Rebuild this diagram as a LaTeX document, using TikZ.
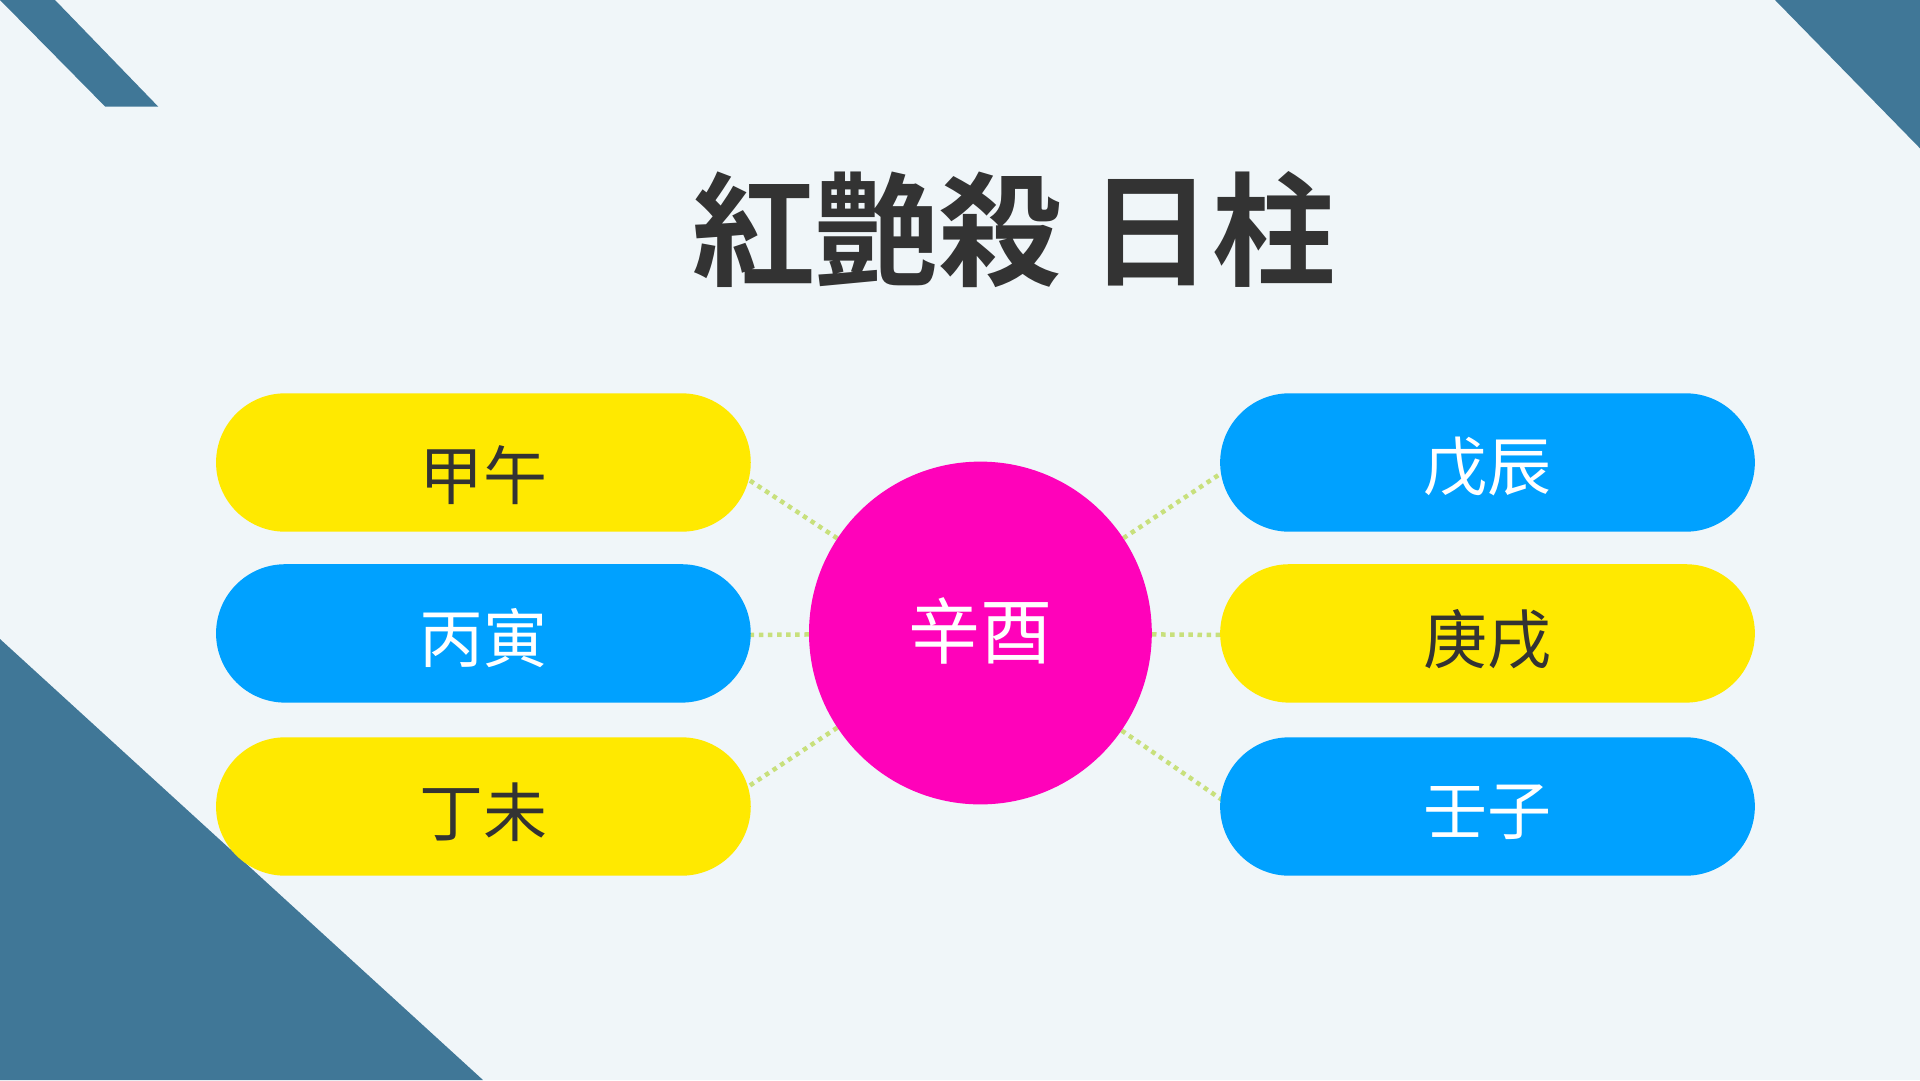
\documentclass[tikz,border=0pt]{standalone}
\usepackage{fontspec}
\newfontfamily\cjk{Noto Sans CJK TC}
\newfontfamily\cjkb{Noto Sans CJK JP Bold}
\newcommand\dropby[2]{\raisebox{-#1}[\height][\depth]{#2}}
\definecolor{bgc}{HTML}{F0F6F9}
\definecolor{deco}{HTML}{407797}
\definecolor{yel}{HTML}{FFE900}
\definecolor{blu}{HTML}{00A1FF}
\definecolor{mag}{HTML}{FF02BA}
\definecolor{dark}{HTML}{333333}
\definecolor{dots}{HTML}{C8E07C}
\pgfdeclarelayer{bg}
\pgfdeclarelayer{lines}
\pgfsetlayers{bg,lines,main}
\tikzset{
  pill/.style={rectangle, rounded corners=69.2pt, minimum width=534.7pt, minimum height=138.4pt, inner sep=0pt, font=\cjk\fontsize{64}{64}\selectfont},
  ypill/.style={pill, fill=yel, text=dark},
  bpill/.style={pill, fill=blu, text=white},
  hub/.style={circle, fill=mag, minimum size=342.8pt, inner sep=0pt, text=white, font=\cjk\fontsize{72}{72}\selectfont},
  conn/.style={draw=dots, line width=4.5pt, dash pattern=on 4.5pt off 4.6pt},
  titlestyle/.style={text=dark, inner sep=0pt, font=\cjkb\fontsize{123}{123}\selectfont}
}
\begin{document}
\begin{tikzpicture}[x=1pt,y=-1pt]
\useasboundingbox (0,0) rectangle (1920,1080);
\begin{pgfonlayer}{bg}
  \fill[bgc] (0,0) rectangle (1920,1080);
  \fill[deco] (0,0) -- (55,0) -- (158.3,106.7) -- (105.3,106.7) -- cycle;
  \fill[deco] (1775,0) -- (1920,0) -- (1920,148.3) -- cycle;
  \fill[deco] (0,639) -- (483,1080) -- (0,1080) -- cycle;
\end{pgfonlayer}

\node[titlestyle] (t) at (1014,230) {紅艶殺 日柱};

\node[hub] (c) at (980.4,633) {\dropby{-2pt}{辛酉}};

\node[ypill] (p1) at (483.4,462.5) {\dropby{13pt}{甲午}};
\node[bpill] (p2) at (483.4,633.4) {\dropby{5pt}{丙寅}};
\node[ypill] (p3) at (483.4,806.5) {\dropby{6pt}{丁未}};
\node[bpill] (p4) at (1487.5,462.5) {\dropby{4pt}{戊辰}};
\node[ypill] (p5) at (1487.5,633.4) {\dropby{6pt}{庚戌}};
\node[bpill] (p6) at (1487.5,806.5) {\dropby{6pt}{壬子}};

\coordinate (e1) at (745,477.3);
\coordinate (e2) at (745,635);
\coordinate (e3) at (745,788.7);
\coordinate (e4) at (1227,469.4);
\coordinate (e5) at (1227,635);
\coordinate (e6) at (1227,803.3);

\begin{pgfonlayer}{lines}
  \draw[conn] (c) -- (e1);
  \draw[conn] (c) -- (e2);
  \draw[conn] (c) -- (e3);
  \draw[conn] (c) -- (e4);
  \draw[conn] (c) -- (e5);
  \draw[conn] (c) -- (e6);
\end{pgfonlayer}
\end{tikzpicture}
\end{document}
